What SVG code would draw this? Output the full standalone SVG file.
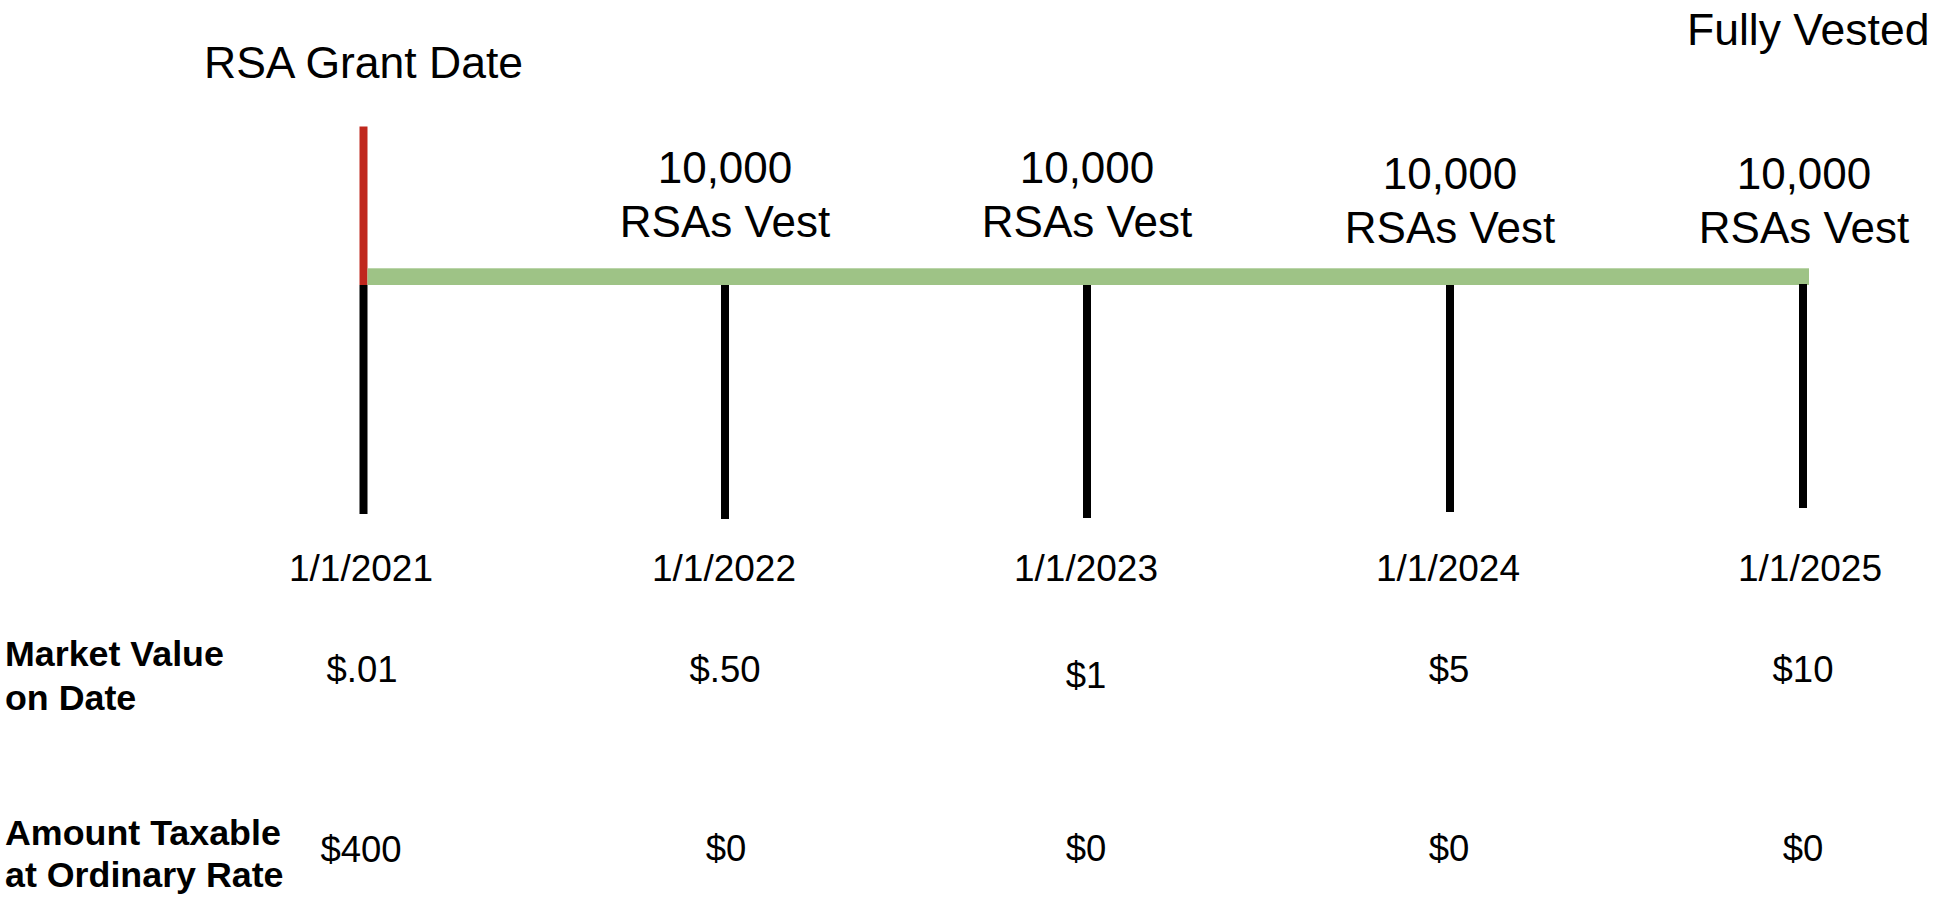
<svg xmlns="http://www.w3.org/2000/svg" width="1934" height="916" viewBox="0 0 1934 916">
<style>
  text { font-family: "Liberation Sans", Arial, sans-serif; fill: #000; }
  .big { font-size: 44.5px; }
  .lbl { font-size: 44px; text-anchor: middle; }
  .date { font-size: 37px; text-anchor: middle; }
  .val { font-size: 36.5px; text-anchor: middle; }
  .row { font-size: 35.8px; font-weight: bold; }
  .tick { stroke: #000; stroke-width: 8; }
</style>
<rect width="1934" height="916" fill="#ffffff"/>
<g id="connectors">
  <rect x="359.5" y="126.5" width="8" height="158.5" fill="#c0281e"/>
  <rect x="367.5" y="268.3" width="1441.5" height="16.7" fill="#9ec386"/>
  <line class="tick" x1="363.5" y1="285" x2="363.5" y2="514"/>
  <line class="tick" x1="725" y1="285" x2="725" y2="519"/>
  <line class="tick" x1="1087" y1="285" x2="1087" y2="518"/>
  <line class="tick" x1="1450" y1="285" x2="1450" y2="512"/>
  <line class="tick" x1="1803" y1="284" x2="1803" y2="508"/>
</g>
<g id="grant-label"><text class="big" x="204" y="78">RSA Grant Date</text></g>
<g id="fully-vested"><text class="big" x="1687" y="45">Fully Vested</text></g>
<g id="vest-2022"><text class="lbl" x="725" y="183">10,000</text><text class="lbl" x="725" y="237">RSAs Vest</text></g>
<g id="vest-2023"><text class="lbl" x="1087" y="183">10,000</text><text class="lbl" x="1087" y="237">RSAs Vest</text></g>
<g id="vest-2024"><text class="lbl" x="1450" y="189">10,000</text><text class="lbl" x="1450" y="243">RSAs Vest</text></g>
<g id="vest-2025"><text class="lbl" x="1804" y="189">10,000</text><text class="lbl" x="1804" y="243">RSAs Vest</text></g>
<g id="dates">
  <text class="date" x="361" y="581">1/1/2021</text>
  <text class="date" x="724" y="581">1/1/2022</text>
  <text class="date" x="1086" y="581">1/1/2023</text>
  <text class="date" x="1448" y="581">1/1/2024</text>
  <text class="date" x="1810" y="581">1/1/2025</text>
</g>
<g id="market-value">
  <text class="row" x="5" y="666">Market Value</text>
  <text class="row" x="5" y="710">on Date</text>
  <text class="val" x="362" y="682">$.01</text>
  <text class="val" x="725" y="682">$.50</text>
  <text class="val" x="1086" y="688">$1</text>
  <text class="val" x="1449" y="682">$5</text>
  <text class="val" x="1803" y="682">$10</text>
</g>
<g id="amount-taxable">
  <text class="row" x="5" y="845">Amount Taxable</text>
  <text class="row" x="5" y="887">at Ordinary Rate</text>
  <text class="val" x="361" y="862">$400</text>
  <text class="val" x="726" y="861">$0</text>
  <text class="val" x="1086" y="861">$0</text>
  <text class="val" x="1449" y="861">$0</text>
  <text class="val" x="1803" y="861">$0</text>
</g>
</svg>
